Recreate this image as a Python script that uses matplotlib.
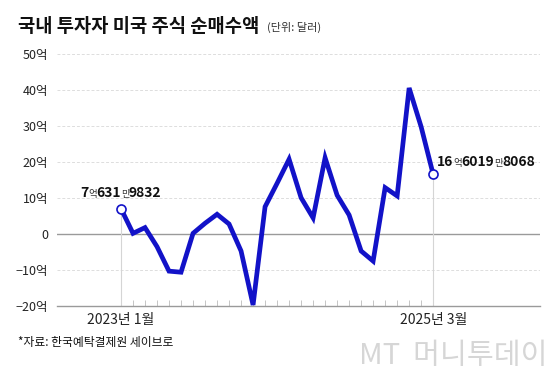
import numpy as np
import matplotlib
matplotlib.use('Agg')
import matplotlib.pyplot as plt
from matplotlib.offsetbox import TextArea, HPacker, AnnotationBbox

plt.rcParams['font.family'] = ['Noto Sans CJK KR', 'DejaVu Sans']

# monthly net purchase, 2023-01 .. 2025-03 (unit: 억 달러)
months = np.arange(27)
net_buy = [7.06, 0.2, 1.8, -3.5, -10.3, -10.6, 0.2, 3.0, 5.5, 2.8, -4.7, -19.7,
           7.6, 14.1, 20.8, 10.1, 4.5, 21.2, 10.8, 5.3, -4.7, -7.5, 12.9, 10.6,
           40.6, 29.8, 16.60]
yticks = [50, 40, 30, 20, 10, 0, -10, -20]
ytick_labels = ['50억', '40억', '30억', '20억', '10억', '0', '−10억', '−20억']
xtick_pos = [0, 26]
xtick_labels = ['2023년 1월', '2025년 3월']
first_label = [('7', '억'), ('631', '만'), ('9832', '')]
last_label = [('16', '억'), ('6019', '만'), ('8068', '')]

blue = '#1212c8'

fig = plt.figure(figsize=(5.6, 3.84), dpi=100)
ax = fig.add_axes([0.1018, 0.203, 0.8625, 0.656])

# grid
for v in yticks[:-1]:
    if v == 0:
        ax.axhline(v, color='#9a9a9a', lw=1.0, zorder=1)
    else:
        ax.axhline(v, color='#dddddd', lw=0.7, ls=(0, (3, 2)), zorder=1)

# guide lines for first and last month
ax.vlines([months[0], months[-1]], -20, [net_buy[0], net_buy[-1]],
          color='#d5d5d5', lw=0.8, zorder=1)

ax.plot(months, net_buy, color=blue, lw=3.4, solid_joinstyle='miter', zorder=3)
ax.plot([months[0], months[-1]], [net_buy[0], net_buy[-1]], 'o', ms=6.5,
        mfc='white', mec=blue, mew=1.2, zorder=4)

ax.set_xlim(-5.33, 34.9)
ax.set_ylim(-20, 50)
ax.set_yticks(yticks)
ax.set_yticklabels(ytick_labels)
ax.tick_params(axis='y', length=0, pad=6.5, labelsize=9, labelcolor='#222222')

ax.set_xticks(months, minor=True)
ax.set_xticks(xtick_pos)
ax.set_xticklabels(xtick_labels)
ax.tick_params(axis='x', which='both', direction='in', length=4, width=0.6,
               color='#bbbbbb', labelsize=10, pad=5, labelcolor='#222222')
ax.tick_params(axis='x', which='major', length=0)

for s in ['top', 'right', 'left']:
    ax.spines[s].set_visible(False)
ax.spines['bottom'].set_color('#9a9a9a')
ax.spines['bottom'].set_linewidth(1.0)


def value_label(parts):
    boxes = []
    for big, small in parts:
        boxes.append(TextArea(big, textprops=dict(fontsize=10, fontweight='bold',
                                                  color='#111111')))
        if small:
            boxes.append(TextArea(small, textprops=dict(fontsize=6.8,
                                                        color='#333333')))
    return HPacker(children=boxes, align='baseline', pad=0, sep=-0.3)


ab = AnnotationBbox(value_label(first_label), (months[0], net_buy[0]),
                    xybox=(0, 11), boxcoords='offset points',
                    box_alignment=(0.5, 0.5), frameon=False)
ax.add_artist(ab)
ab = AnnotationBbox(value_label(last_label), (months[-1], net_buy[-1]),
                    xybox=(3, 9), boxcoords='offset points',
                    box_alignment=(0, 0.5), frameon=False)
ax.add_artist(ab)

fig.text(0.032, 0.93, '국내 투자자 미국 주식 순매수액', fontsize=13.5, fontweight='bold',
         color='#111111', va='center')
fig.text(0.477, 0.928, '(단위: 달러)', fontsize=8, color='#333333', va='center')
fig.text(0.032, 0.107, '*자료: 한국예탁결제원 세이브로', fontsize=8.5, color='#111111',
         va='center')
fig.text(0.978, 0.072, 'MT  머니투데이', fontsize=21, color='#d6d6d6', ha='right',
         va='center', style='italic')

fig.savefig('out.png', dpi=100)
